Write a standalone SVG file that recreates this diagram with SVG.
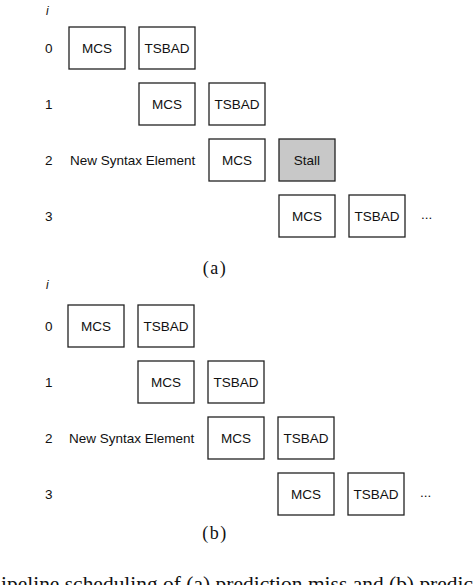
<svg xmlns="http://www.w3.org/2000/svg" width="474" height="585" viewBox="0 0 474 585">
<style>
.box{fill:#fff;stroke:#222;stroke-width:1.3}
.stall{fill:#c8c8c8;stroke:#222;stroke-width:1.3}
.t{font-family:"Liberation Sans",Arial,sans-serif;font-size:13.5px;fill:#111;text-anchor:middle;dominant-baseline:central}
.l{font-family:"Liberation Sans",Arial,sans-serif;font-size:13.5px;fill:#111;dominant-baseline:central}
.i{font-family:"Liberation Sans",Arial,sans-serif;font-size:12px;font-style:italic;fill:#111}
.cap{font-family:"Liberation Serif","Times New Roman",serif;font-size:18px;fill:#111;text-anchor:middle;letter-spacing:1.5px}
.fig{font-family:"Liberation Serif","Times New Roman",serif;font-size:21px;fill:#111}
</style>
<rect width="474" height="585" fill="#fff"/>

<g id="labels-a">
<text class="i" x="46" y="15">i</text>
<text class="l" x="45" y="48">0</text>
<text class="l" x="45" y="104">1</text>
<text class="l" x="45" y="160">2</text>
<text class="l" x="45" y="216">3</text>
<text class="l" x="70" y="160">New Syntax Element</text>
<text class="l" x="421" y="214">...</text>
<text class="cap" x="215" y="274">(a)</text>
</g>

<g id="a-r0-mcs"><rect class="box" x="69" y="27" width="56" height="42"/><text class="t" x="97" y="48">MCS</text></g>
<g id="a-r0-tsbad"><rect class="box" x="139" y="27" width="56" height="42"/><text class="t" x="167" y="48">TSBAD</text></g>
<g id="a-r1-mcs"><rect class="box" x="139" y="83" width="56" height="42"/><text class="t" x="167" y="104">MCS</text></g>
<g id="a-r1-tsbad"><rect class="box" x="209" y="83" width="56" height="42"/><text class="t" x="237" y="104">TSBAD</text></g>
<g id="a-r2-mcs"><rect class="box" x="209" y="139" width="56" height="42"/><text class="t" x="237" y="160">MCS</text></g>
<g id="a-r2-stall"><rect class="stall" x="279" y="139" width="56" height="42"/><text class="t" x="307" y="160">Stall</text></g>
<g id="a-r3-mcs"><rect class="box" x="279" y="195" width="56" height="42"/><text class="t" x="307" y="216">MCS</text></g>
<g id="a-r3-tsbad"><rect class="box" x="349" y="195" width="56" height="42"/><text class="t" x="377" y="216">TSBAD</text></g>

<g id="labels-b">
<text class="i" x="46" y="289">i</text>
<text class="l" x="45" y="326">0</text>
<text class="l" x="45" y="382">1</text>
<text class="l" x="45" y="438">2</text>
<text class="l" x="45" y="494">3</text>
<text class="l" x="69" y="438">New Syntax Element</text>
<text class="l" x="420" y="492">...</text>
<text class="cap" x="215" y="539">(b)</text>
</g>

<g id="b-r0-mcs"><rect class="box" x="68" y="305" width="56" height="42"/><text class="t" x="96" y="326">MCS</text></g>
<g id="b-r0-tsbad"><rect class="box" x="138" y="305" width="56" height="42"/><text class="t" x="166" y="326">TSBAD</text></g>
<g id="b-r1-mcs"><rect class="box" x="138" y="361" width="56" height="42"/><text class="t" x="166" y="382">MCS</text></g>
<g id="b-r1-tsbad"><rect class="box" x="208" y="361" width="56" height="42"/><text class="t" x="236" y="382">TSBAD</text></g>
<g id="b-r2-mcs"><rect class="box" x="208" y="417" width="56" height="42"/><text class="t" x="236" y="438">MCS</text></g>
<g id="b-r2-tsbad"><rect class="box" x="278" y="417" width="56" height="42"/><text class="t" x="306" y="438">TSBAD</text></g>
<g id="b-r3-mcs"><rect class="box" x="278" y="473" width="56" height="42"/><text class="t" x="306" y="494">MCS</text></g>
<g id="b-r3-tsbad"><rect class="box" x="348" y="473" width="56" height="42"/><text class="t" x="376" y="494">TSBAD</text></g>

<g id="connectors"></g>

<text class="fig" x="1" y="591" textLength="472" lengthAdjust="spacingAndGlyphs">ipeline scheduling of (a) prediction miss and (b) predic</text>
</svg>
